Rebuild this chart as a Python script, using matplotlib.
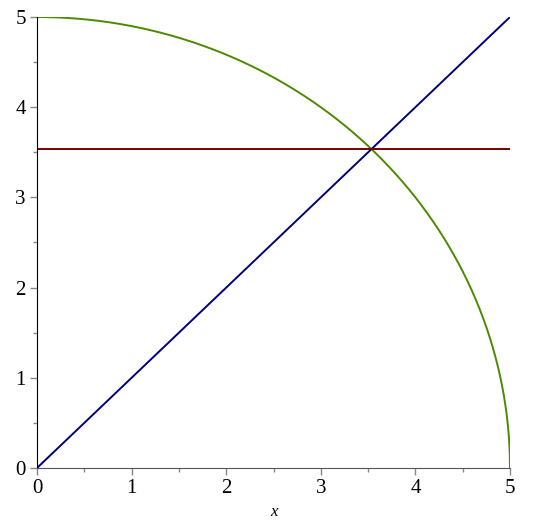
import numpy as np
import matplotlib
matplotlib.use('Agg')
import matplotlib.pyplot as plt
from matplotlib.ticker import MultipleLocator

plt.rcParams['font.family'] = ['Liberation Serif', 'DejaVu Serif']

# curves: quarter circle of radius 5, diagonal y=x, horizontal level at 5/sqrt(2)
radius = 5.0
level = radius / np.sqrt(2)
x_range = [0, 5]
y_range = [0, 5]
ticks = [0, 1, 2, 3, 4, 5]

col_circle = '#4c8a00'
col_diag = '#00007a'
col_level = '#7a0000'

fig = plt.figure(figsize=(5.5, 5.21), dpi=100)
ax = fig.add_axes([37/550, 53/521, 473/550, 451/521])

xs = np.linspace(0, radius, 2000)
ax.plot(xs, np.sqrt(np.clip(radius**2 - xs**2, 0, None)), color=col_circle, lw=1.4)
ax.plot(x_range, x_range, color=col_diag, lw=1.4)
ax.plot(x_range, [level, level], color=col_level, lw=1.4)

ax.set_xlim(x_range)
ax.set_ylim(y_range)
ax.set_xticks(ticks)
ax.set_yticks(ticks)
ax.xaxis.set_minor_locator(MultipleLocator(0.5))
ax.yaxis.set_minor_locator(MultipleLocator(0.5))

for s in ['top', 'right']:
    ax.spines[s].set_visible(False)
ax.spines['left'].set_color('black')
ax.spines['bottom'].set_color('#555555')
ax.tick_params(which='major', length=5, width=1, color='#888888', direction='out', pad=3, labelsize=15)
ax.tick_params(which='minor', length=3, width=1, color='#888888', direction='out')

ax.set_xlabel('x', fontstyle='italic', fontsize=12, labelpad=4)

fig.savefig('out.png', dpi=100)
